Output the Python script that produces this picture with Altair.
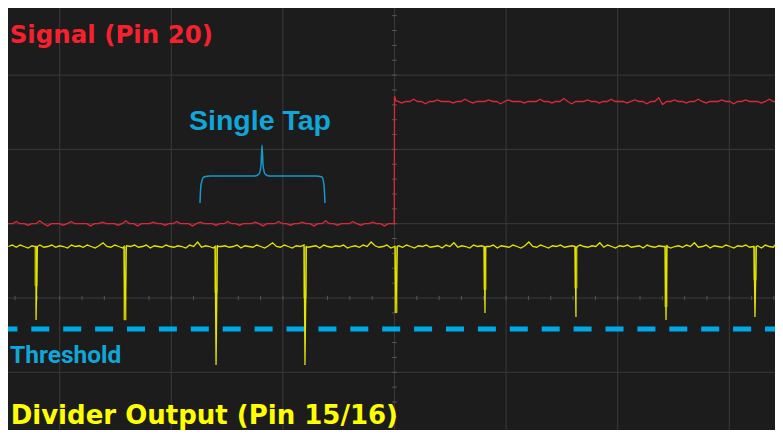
import altair as alt
import pandas as pd

# ---------------- data (scope units: 1 = one division; noise in 1/100 div) ----------------
red_low_span = (-3.46, -0.02)
red_low_level = 1.0
red_low = [0, 0, 3, 0, 0, -2, 0, 0, 4, 0, -3, 0, 0, 0, -2, 0, 3, 0, 0, 0,
           0, -3, 0, 0, 2, 0, 0, 0, -2, 0, 4, 0, 0, -3, 0, 0, 0, 2, 0, 0,
           -2, 0, 0, 3, 0, 0, 0, -3, 0, 2, 0, 0, 0, -2, 0, 0, 3, 0, 0, -2,
           0, 0, 0, 2, 0, -3, 0, 0, 0, 3, 0, 0, -2, 0, 0, 2, 0, 0, -3, 0,
           0, 4, 0, 0, -2, 0, 0, 0, 3, 0, -2, 0, 0, 2, 0, 0, -3, 0, 0]
red_edge = 0.0
red_peak = 2.72
red_high_span = (0.03, 3.50)
red_high_level = 2.645
red_high = [0, -2, 0, 0, 3, 0, 0, -3, 0, 0, 2, 0, 0, 0, -2, 0, 0, 3, 0, -2,
            0, 0, 0, 2, 0, 0, -3, 0, 2, 0, 0, 0, -2, 0, 0, 0, 3, 0, 0, -2,
            0, 0, 4, 0, -3, 0, 0, 0, 2, 0, 0, -2, 0, 0, 3, 0, 0, 0, -2, 0,
            2, 0, 0, -3, 0, 0, 5, -4, 0, 0, 2, 0, 0, -2, 0, 0, 3, 0, -2, 0,
            0, 0, 2, 0, 0, -3, 0, 0, 2, 0, 0, 0, -2, 0, 3, 0, 0, -2, 0]

yel_span = (-3.46, 3.50)
yel_level = 0.693
yel_noise = [0, 2, -1, 2, 0, -2, 1, 0, 2, -1, 0, 2, -1, 1, 0, -2, 2, 0, 1, -1,
             2, 0, -2, 1, 5, 0, -1, 2, 0, -2, 1, 0, 2, -1, 0, 2, -2, 1, 0, -1,
             2, 0, -1, 1, 0, -2, 2, 0, 6, -1, 1, 0, -2, 2, 0, 1, -1, 0, 2, -2,
             1, 0, -1, 2, 0, -2, 1, 5, 0, -1, 2, 0, -2, 1, 0, 2, -1, 0, 1, -2,
             2, 0, -1, 1, 0, 2, -2, 0, 1, -1, 2, 0, 6, 1, -1, 0, 2, -2, 0, 1,
             -1, 2, 0, -2, 1, 0, 2, -1, 0, 1, -2, 2, 0, 5, -1, 1, 0, -2, 2, 0,
             1, -1, 0, 2, -2, 1, 0, -1, 2, 0, -2, 1, 6, 0, -1, 2, 0, -2, 1, 0,
             2, -1, 0, 1, -2, 2, 0, -1, 1, 0, 5, -1, 2, 0, -2, 1, 0, 2, -1, 0,
             1, -2, 2, 0, -1, 1, 0, 2, -2, 0, 1, -1, 2, 0, 5, -1, 0, 2, -2, 1,
             0, -1, 2, 0, -2, 1, 0, 2, -1, 0, 1, -2, 2, 0, -1, 6, 0, -2]
spike_t = [-3.212, -2.415, -1.599, -0.802, 0.013, 0.811, 1.626, 2.433, 3.230]
spike_depth = [-0.296, -0.296, -0.902, -0.902, -0.202, -0.202, -0.256, -0.296, -0.256]
spike_glow = [0.16, -0.30, 0.07, 0.00, -0.20, 0.11, 0.13, -0.12, 0.24]

threshold = -0.417

brace_t = [-1.743, -1.734, -1.707, -1.653, -1.250, -1.214, -1.196, -1.187,
           -1.178, -1.160, -1.124, -0.703, -0.650, -0.632, -0.623]
brace_v = [1.279, 1.521, 1.629, 1.642, 1.642, 1.669, 1.790, 2.059,
           1.790, 1.669, 1.642, 1.642, 1.629, 1.521, 1.279]

grid_t = [-3, -2, -1, 0, 1, 2, 3]
grid_v = [-1, 0, 1, 2, 3]

labels = [
    {"t": -1.626, "v": 3.432, "text": "Signal (Pin 20)", "color": "#f5212f",
     "align": "right", "font": "DejaVu Sans", "size": 24.5},
    {"t": -1.205, "v": 2.261, "text": "Single Tap", "color": "#12a6d8",
     "align": "center", "font": "Liberation Sans", "size": 28.5},
    {"t": -3.445, "v": -0.875, "text": "Threshold", "color": "#12a6d8",
     "align": "left", "font": "Roboto", "size": 24.5},
    {"t": 0.031, "v": -1.690, "text": "Divider Output (Pin 15/16)", "color": "#ffff00",
     "align": "right", "font": "DejaVu Sans", "size": 26},
]

# ---------------- layout ----------------
W, H = 767, 422
PX_T, PX_V = 111.6, 74.3          # pixels per division
CX, CY = 394.5, 298.0             # centre of screen in reference pixels
x_dom = [(8 - CX) / PX_T, (8 + W - CX) / PX_T]
y_dom = [(CY - (8 + H)) / PX_V, (CY - 8) / PX_V]


def X(f):
    return alt.X(f, type="quantitative", scale=alt.Scale(domain=x_dom, nice=False, zero=False), axis=None)


def Y(f):
    return alt.Y(f, type="quantitative", scale=alt.Scale(domain=y_dom, nice=False, zero=False), axis=None)


def times(span, n):
    a, b = span
    return [a + i * (b - a) / (n - 1) for i in range(n)]


# ---------------- build traces ----------------
red = [(t, red_low_level + v / 100) for t, v in zip(times(red_low_span, len(red_low)), red_low)]
red += [(red_edge - 0.002, red_low_level), (red_edge, red_peak),
        (red_edge + 0.012, red_high_level + 0.01)]
red += [(t, red_high_level + v / 100) for t, v in zip(times(red_high_span, len(red_high)), red_high)]
red_df = pd.DataFrame(red, columns=["t", "v"])

yel = [(t, yel_level + v / 100) for t, v in zip(times(yel_span, len(yel_noise)), yel_noise)]
for t, d in zip(spike_t, spike_depth):
    yel += [(t - 0.008, yel_level), (t, d), (t + 0.012, yel_level)]
yel_df = pd.DataFrame(sorted(yel), columns=["t", "v"])

glow_df = pd.DataFrame({"t": spike_t, "v": [yel_level] * len(spike_t), "v2": spike_glow})

steps_h = [round(-3.4 + 0.2 * i, 2) for i in range(35)]
steps_v = [round(-1.8 + 0.2 * i, 2) for i in range(29)]
tick_h = pd.DataFrame({"t": steps_h, "v": [-0.03] * len(steps_h), "v2": [0.03] * len(steps_h)})
tick_v = pd.DataFrame({"v": steps_v, "t": [-0.022] * len(steps_v), "t2": [0.022] * len(steps_v)})

grid_color = "#3a3a3a"

vgrid = alt.Chart(pd.DataFrame({"t": grid_t})).mark_rule(color=grid_color, strokeWidth=1).encode(x=X("t"))
hgrid = alt.Chart(pd.DataFrame({"v": grid_v})).mark_rule(color=grid_color, strokeWidth=1).encode(y=Y("v"))
ticks_h = alt.Chart(tick_h).mark_rule(color="#555555", strokeWidth=1).encode(
    x=X("t"), y=Y("v"), y2="v2")
ticks_v = alt.Chart(tick_v).mark_rule(color="#555555", strokeWidth=1).encode(
    y=Y("v"), x=X("t"), x2="t2")

thr = alt.Chart(pd.DataFrame({"v": [threshold]})).mark_rule(
    color="#00a8e8", strokeWidth=5, strokeDash=[18, 13.9], strokeDashOffset=8, strokeCap="butt"
).encode(y=Y("v"))

glow = alt.Chart(glow_df).mark_rule(color="#8a8a00", strokeWidth=3.5, opacity=0.9).encode(
    x=X("t"), y=Y("v"), y2="v2")

red_line = alt.Chart(red_df).mark_line(color="#d92a3a", strokeWidth=1.3, clip=True).encode(
    x=X("t"), y=Y("v"))
yel_line = alt.Chart(yel_df).mark_line(color="#e4e400", strokeWidth=1.3, clip=True).encode(
    x=X("t"), y=Y("v"))

brace = alt.Chart(pd.DataFrame({"t": brace_t, "v": brace_v})).mark_line(
    color="#1599cc", strokeWidth=1.5, interpolate="monotone").encode(x=X("t"), y=Y("v"))

text_layers = []
for lab in labels:
    text_layers.append(
        alt.Chart(pd.DataFrame([{"t": lab["t"], "v": lab["v"], "text": lab["text"]}])).mark_text(
            font=lab["font"], fontWeight="bold", fontSize=lab["size"],
            align=lab["align"], baseline="alphabetic", color=lab["color"]
        ).encode(x=X("t"), y=Y("v"), text="text:N")
    )

chart = alt.layer(
    vgrid, hgrid, ticks_h, ticks_v, thr, red_line, glow, yel_line, brace, *text_layers
).properties(
    width=W, height=H, padding=0,
    autosize=alt.AutoSizeParams(type="none"),
    background="#1c1c1c",
).configure_view(stroke=None, fill="#1c1c1c")

chart.save("out.html", embed_options={"renderer": "svg", "actions": False})
